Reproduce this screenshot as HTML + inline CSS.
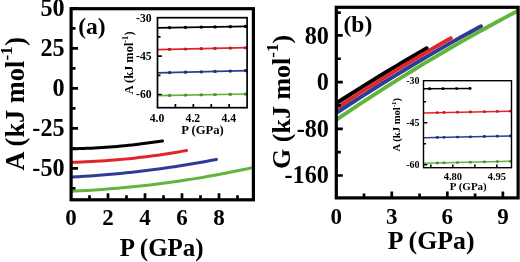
<!DOCTYPE html>
<html><head><meta charset="utf-8"><title>Helmholtz and Gibbs free energy vs pressure</title>
<style>html,body{margin:0;padding:0;background:#fff;}body{width:520px;height:262px;overflow:hidden;}svg{display:block;}</style>
</head><body>
<svg width="520" height="262" viewBox="0 0 520 262">
<rect width="520" height="262" fill="#fff"/>
<clipPath id="ca"><rect x="71.1" y="8.7" width="182.3" height="191.1"/></clipPath>
<g clip-path="url(#ca)" fill="none" stroke-width="3" stroke-linecap="round">
<polyline stroke="#000" points="72,148.71 75.77,148.64 79.54,148.55 83.31,148.43 87.08,148.29 90.85,148.13 94.62,147.95 98.4,147.75 102.17,147.52 105.94,147.27 109.71,147 113.48,146.71 117.25,146.4 121.02,146.06 124.79,145.7 128.56,145.32 132.33,144.92 136.1,144.49 139.88,144.05 143.65,143.58 147.42,143.09 151.19,142.57 154.96,142.04 158.73,141.48 162.5,140.9"/>
<polyline stroke="#e3242b" points="72,162.3 76.77,162.17 81.54,162 86.31,161.81 91.08,161.58 95.85,161.32 100.62,161.03 105.4,160.71 110.17,160.36 114.94,159.98 119.71,159.56 124.48,159.12 129.25,158.64 134.02,158.14 138.79,157.6 143.56,157.03 148.33,156.43 153.1,155.8 157.88,155.14 162.65,154.45 167.42,153.73 172.19,152.97 176.96,152.19 181.73,151.37 186.5,150.52"/>
<polyline stroke="#2e3c96" points="72,176.95 78.02,176.63 84.04,176.28 90.06,175.89 96.08,175.47 102.1,175.01 108.12,174.51 114.15,173.98 120.17,173.41 126.19,172.81 132.21,172.17 138.23,171.49 144.25,170.78 150.27,170.03 156.29,169.25 162.31,168.43 168.33,167.58 174.35,166.69 180.38,165.76 186.4,164.8 192.42,163.8 198.44,162.77 204.46,161.7 210.48,160.59 216.5,159.45"/>
<polyline stroke="#62b53c" points="72,191.14 79.58,190.8 87.17,190.4 94.75,189.94 102.33,189.43 109.92,188.87 117.5,188.24 125.08,187.56 132.67,186.83 140.25,186.03 147.83,185.18 155.42,184.28 163,183.31 170.58,182.29 178.17,181.21 185.75,180.08 193.33,178.89 200.92,177.65 208.5,176.34 216.08,174.98 223.67,173.57 231.25,172.09 238.83,170.56 246.42,168.98 254,167.34"/>
</g>
<path d="M71.1 8.4H78M71.1 48.4H78M71.1 88.4H78M71.1 128.4H78M71.1 168.4H78M71.1 28.4H75.5M71.1 68.4H75.5M71.1 108.4H75.5M71.1 148.4H75.5M71.1 188.4H75.5M108 199.8V193.3M145 199.8V193.3M182 199.8V193.3M219 199.8V193.3M89.5 199.8V195.2M126.5 199.8V195.2M163.5 199.8V195.2M200.5 199.8V195.2M237.5 199.8V195.2" stroke="#000" stroke-width="2.7" fill="none"/>
<rect x="71.1" y="8.7" width="182.3" height="191.1" fill="none" stroke="#000" stroke-width="3.2"/>
<g font-family="'Liberation Serif', 'Times New Roman', serif" font-weight="bold" font-size="24.2" text-anchor="end">
<text x="64.6" y="16.4">50</text>
<text x="64.6" y="56.4">25</text>
<text x="64.6" y="96.4">0</text>
<text x="64.6" y="136.4">-25</text>
<text x="64.6" y="176.4">-50</text>
</g>
<g font-family="'Liberation Serif', 'Times New Roman', serif" font-weight="bold" font-size="23" text-anchor="middle">
<text x="71" y="224.9">0</text>
<text x="108" y="224.9">2</text>
<text x="145" y="224.9">4</text>
<text x="182" y="224.9">6</text>
<text x="219" y="224.9">8</text>
</g>
<text font-family="'Liberation Serif', 'Times New Roman', serif" font-weight="bold" font-size="25" x="119.7" y="256.1">P (GPa)</text>
<text font-family="'Liberation Serif', 'Times New Roman', serif" font-weight="bold" font-size="23.5" x="78.3" y="34.2">(a)</text>
<text font-family="'Liberation Serif', 'Times New Roman', serif" font-weight="bold" font-size="26.4" transform="translate(24.1 170.6) rotate(-90)">A (kJ mol<tspan font-size="17.2" dy="-12.3">-1</tspan><tspan dy="12.3" dx="0.6">)</tspan></text>
<rect x="157.5" y="17.7" width="89.6" height="90" fill="#fff" stroke="none"/>
<path d="M157.5 27.8L247.1 26.4" stroke="#000" stroke-width="1.7"/>
<ellipse cx="169.6" cy="27.61" rx="1.9" ry="1.6" fill="#000"/>
<ellipse cx="185.5" cy="27.36" rx="1.9" ry="1.6" fill="#000"/>
<ellipse cx="201.3" cy="27.12" rx="1.9" ry="1.6" fill="#000"/>
<ellipse cx="215" cy="26.9" rx="1.9" ry="1.6" fill="#000"/>
<ellipse cx="230.3" cy="26.66" rx="1.9" ry="1.6" fill="#000"/>
<ellipse cx="245.5" cy="26.42" rx="1.9" ry="1.6" fill="#000"/>
<path d="M157.5 49.6L247.1 47.7" stroke="#e3242b" stroke-width="1.7"/>
<ellipse cx="169.6" cy="49.34" rx="1.9" ry="1.6" fill="#c01e24"/>
<ellipse cx="185.5" cy="49.01" rx="1.9" ry="1.6" fill="#c01e24"/>
<ellipse cx="201.3" cy="48.67" rx="1.9" ry="1.6" fill="#c01e24"/>
<ellipse cx="215" cy="48.38" rx="1.9" ry="1.6" fill="#c01e24"/>
<ellipse cx="230.3" cy="48.06" rx="1.9" ry="1.6" fill="#c01e24"/>
<ellipse cx="245.5" cy="47.73" rx="1.9" ry="1.6" fill="#c01e24"/>
<path d="M157.5 72.9L247.1 70.6" stroke="#2e3c96" stroke-width="1.7"/>
<ellipse cx="169.6" cy="72.59" rx="1.9" ry="1.6" fill="#26306e"/>
<ellipse cx="185.5" cy="72.18" rx="1.9" ry="1.6" fill="#26306e"/>
<ellipse cx="201.3" cy="71.78" rx="1.9" ry="1.6" fill="#26306e"/>
<ellipse cx="215" cy="71.42" rx="1.9" ry="1.6" fill="#26306e"/>
<ellipse cx="230.3" cy="71.03" rx="1.9" ry="1.6" fill="#26306e"/>
<ellipse cx="245.5" cy="70.64" rx="1.9" ry="1.6" fill="#26306e"/>
<path d="M157.5 95.6L247.1 94" stroke="#62b53c" stroke-width="1.7"/>
<ellipse cx="169.6" cy="95.38" rx="1.9" ry="1.6" fill="#4f8f34"/>
<ellipse cx="185.5" cy="95.1" rx="1.9" ry="1.6" fill="#4f8f34"/>
<ellipse cx="201.3" cy="94.82" rx="1.9" ry="1.6" fill="#4f8f34"/>
<ellipse cx="215" cy="94.57" rx="1.9" ry="1.6" fill="#4f8f34"/>
<ellipse cx="230.3" cy="94.3" rx="1.9" ry="1.6" fill="#4f8f34"/>
<ellipse cx="245.5" cy="94.03" rx="1.9" ry="1.6" fill="#4f8f34"/>
<path d="M157.5 56.1H161.8M157.5 94.5H161.8M157.5 36.9H160.5M157.5 75.3H160.5M175.42 107.7V104M193.34 107.7V104M211.26 107.7V104M229.18 107.7V104" stroke="#000" stroke-width="1.7" fill="none"/>
<rect x="157.5" y="17.7" width="89.6" height="90" fill="none" stroke="#000" stroke-width="1.7"/>
<g font-family="'Liberation Serif', 'Times New Roman', serif" font-weight="bold" font-size="11.7" text-anchor="end">
<text x="151.7" y="21.5">-30</text>
<text x="151.7" y="59.9">-45</text>
<text x="151.7" y="98.3">-60</text>
</g>
<g font-family="'Liberation Serif', 'Times New Roman', serif" font-weight="bold" font-size="11.7" text-anchor="middle">
<text x="157" y="121.8">4.0</text>
<text x="192.84" y="121.8">4.2</text>
<text x="228.68" y="121.8">4.4</text>
</g>
<text font-family="'Liberation Serif', 'Times New Roman', serif" font-weight="bold" font-size="12.6" x="181.3" y="133.8">P (GPa)</text>
<text font-family="'Liberation Serif', 'Times New Roman', serif" font-weight="bold" font-size="12.4" transform="translate(133.2 94.3) rotate(-90)">A (kJ mol<tspan font-size="8.2" dy="-5.2">-1</tspan><tspan dy="5.2" dx="0.3">)</tspan></text>
<clipPath id="cb"><rect x="336.3" y="7.3" width="181.8" height="190.6"/></clipPath>
<g clip-path="url(#cb)" fill="none" stroke-linecap="round" stroke-linejoin="round">
<polyline stroke="#000" stroke-width="4" points="336.5,103.17 342.51,99.3 348.53,95.46 354.54,91.66 360.55,87.88 366.57,84.13 372.58,80.41 378.59,76.73 384.61,73.07 390.62,69.44 396.63,65.85 402.65,62.28 408.66,58.75 414.67,55.24 420.69,51.77 426.7,48.33"/>
<polyline stroke="#e3242b" stroke-width="3.9" points="336.5,108.06 344.12,103.06 351.74,98.11 359.36,93.22 366.98,88.37 374.6,83.57 382.22,78.82 389.84,74.11 397.46,69.46 405.08,64.85 412.7,60.3 420.32,55.79 427.94,51.33 435.56,46.92 443.18,42.56 450.8,38.25"/>
<polyline stroke="#2e3c96" stroke-width="3.9" points="336.5,112.82 346.13,106.5 355.77,100.26 365.4,94.1 375.03,88.02 384.67,82.02 394.3,76.09 403.93,70.24 413.57,64.47 423.2,58.78 432.83,53.17 442.47,47.63 452.1,42.17 461.73,36.79 471.37,31.49 481,26.27"/>
<polyline stroke="#62b53c" stroke-width="3.9" points="336.5,119.59 348.87,111.29 361.23,103.12 373.6,95.08 385.97,87.17 398.33,79.38 410.7,71.72 423.07,64.2 435.43,56.8 447.8,49.53 460.17,42.38 472.53,35.37 484.9,28.48 497.27,21.72 509.63,15.1 522,8.6"/>
</g>
<path d="M336.3 35.41H342.8M336.3 82.1H342.8M336.3 128.79H342.8M336.3 175.48H342.8M336.3 12.57H340.8M336.3 58.76H340.8M336.3 105.44H340.8M336.3 152.13H340.8M391.76 197.9V191.5M447.32 197.9V191.5M502.88 197.9V191.5M363.98 197.9V193.5M419.54 197.9V193.5M475.1 197.9V193.5" stroke="#000" stroke-width="2.7" fill="none"/>
<rect x="336.3" y="7.3" width="181.8" height="190.6" fill="none" stroke="#000" stroke-width="3.2"/>
<g font-family="'Liberation Serif', 'Times New Roman', serif" font-weight="bold" font-size="24.2" text-anchor="end">
<text x="328.9" y="44.11">80</text>
<text x="328.9" y="89.9">0</text>
<text x="328.9" y="136.99">-80</text>
<text x="328.9" y="183.08">-160</text>
</g>
<g font-family="'Liberation Serif', 'Times New Roman', serif" font-weight="bold" font-size="23" text-anchor="middle">
<text x="336.2" y="223.6">0</text>
<text x="391.76" y="223.6">3</text>
<text x="447.32" y="223.6">6</text>
<text x="502.88" y="223.6">9</text>
</g>
<text font-family="'Liberation Serif', 'Times New Roman', serif" font-weight="bold" font-size="25.8" x="387.8" y="248.8">P (GPa)</text>
<text font-family="'Liberation Serif', 'Times New Roman', serif" font-weight="bold" font-size="23.5" x="343.5" y="31.6">(b)</text>
<text font-family="'Liberation Serif', 'Times New Roman', serif" font-weight="bold" font-size="26" transform="translate(290 168.9) rotate(-90)">G (kJ mol<tspan font-size="17" dy="-12">-1</tspan><tspan dy="12">)</tspan></text>
<rect x="423.5" y="80.7" width="88" height="87" fill="#fff" stroke="none"/>
<path d="M423.5 88.8L471 88.42" stroke="#000" stroke-width="1.5"/>
<ellipse cx="429.6" cy="88.75" rx="1.6" ry="1.4" fill="#000"/>
<ellipse cx="443" cy="88.64" rx="1.6" ry="1.4" fill="#000"/>
<ellipse cx="456.5" cy="88.54" rx="1.6" ry="1.4" fill="#000"/>
<ellipse cx="470" cy="88.43" rx="1.6" ry="1.4" fill="#000"/>
<path d="M423.5 112.9L511.5 111.2" stroke="#e3242b" stroke-width="1.5"/>
<ellipse cx="437.3" cy="112.63" rx="1.6" ry="1.4" fill="#c01e24"/>
<ellipse cx="444" cy="112.5" rx="1.6" ry="1.4" fill="#c01e24"/>
<ellipse cx="457.5" cy="112.24" rx="1.6" ry="1.4" fill="#c01e24"/>
<ellipse cx="470.4" cy="111.99" rx="1.6" ry="1.4" fill="#c01e24"/>
<ellipse cx="484.4" cy="111.72" rx="1.6" ry="1.4" fill="#c01e24"/>
<ellipse cx="497.3" cy="111.47" rx="1.6" ry="1.4" fill="#c01e24"/>
<ellipse cx="510.4" cy="111.22" rx="1.6" ry="1.4" fill="#c01e24"/>
<path d="M423.5 137.7L511.5 136" stroke="#2e3c96" stroke-width="1.5"/>
<ellipse cx="437.3" cy="137.43" rx="1.6" ry="1.4" fill="#26306e"/>
<ellipse cx="444" cy="137.3" rx="1.6" ry="1.4" fill="#26306e"/>
<ellipse cx="457.5" cy="137.04" rx="1.6" ry="1.4" fill="#26306e"/>
<ellipse cx="470.4" cy="136.79" rx="1.6" ry="1.4" fill="#26306e"/>
<ellipse cx="484.4" cy="136.52" rx="1.6" ry="1.4" fill="#26306e"/>
<ellipse cx="497.3" cy="136.27" rx="1.6" ry="1.4" fill="#26306e"/>
<ellipse cx="510.4" cy="136.02" rx="1.6" ry="1.4" fill="#26306e"/>
<path d="M423.5 163.3L511.5 161.3" stroke="#62b53c" stroke-width="1.5"/>
<ellipse cx="437.3" cy="162.99" rx="1.6" ry="1.4" fill="#4f8f34"/>
<ellipse cx="444" cy="162.83" rx="1.6" ry="1.4" fill="#4f8f34"/>
<ellipse cx="457.5" cy="162.53" rx="1.6" ry="1.4" fill="#4f8f34"/>
<ellipse cx="470.4" cy="162.23" rx="1.6" ry="1.4" fill="#4f8f34"/>
<ellipse cx="484.4" cy="161.92" rx="1.6" ry="1.4" fill="#4f8f34"/>
<ellipse cx="497.3" cy="161.62" rx="1.6" ry="1.4" fill="#4f8f34"/>
<ellipse cx="510.4" cy="161.33" rx="1.6" ry="1.4" fill="#4f8f34"/>
<path d="M423.5 122.7H427.3M423.5 164.7H427.3M423.5 101.7H426M423.5 143.7H426M430.83 167.7V164.6M452.83 167.7V164.6M474.83 167.7V164.6M496.83 167.7V164.6" stroke="#000" stroke-width="1.5" fill="none"/>
<rect x="423.5" y="80.7" width="88" height="87" fill="none" stroke="#000" stroke-width="1.4"/>
<g font-family="'Liberation Serif', 'Times New Roman', serif" font-weight="bold" font-size="10" text-anchor="end">
<text x="419.6" y="84">-30</text>
<text x="419.6" y="126">-45</text>
<text x="419.6" y="168">-60</text>
</g>
<g font-family="'Liberation Serif', 'Times New Roman', serif" font-weight="bold" font-size="10.5" text-anchor="middle">
<text x="452.83" y="180.1">4.80</text>
<text x="496.83" y="180.1">4.95</text>
</g>
<text font-family="'Liberation Serif', 'Times New Roman', serif" font-weight="bold" font-size="11" x="449.8" y="190">P (GPa)</text>
<text font-family="'Liberation Serif', 'Times New Roman', serif" font-weight="bold" font-size="10.6" transform="translate(400.4 151.4) rotate(-90)">A (kJ mol<tspan font-size="7" dy="-4.5">-1</tspan><tspan dy="4.5">)</tspan></text>
</svg>
</body></html>
